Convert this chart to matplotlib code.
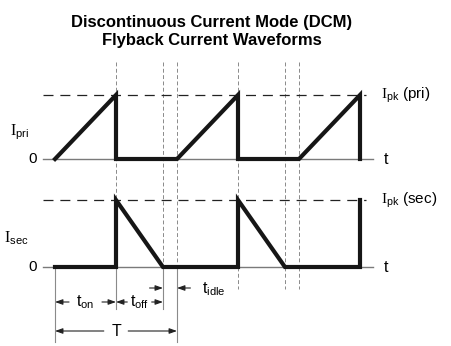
import matplotlib
matplotlib.use("Agg")
import matplotlib.pyplot as plt

plt.rcParams['font.family'] = ['Liberation Sans', 'DejaVu Sans']
plt.rcParams['mathtext.fontset'] = 'custom'
plt.rcParams['mathtext.rm'] = 'Liberation Serif'
plt.rcParams['mathtext.sf'] = 'Liberation Sans'

# waveform data, time in units of t_on, current normalised to I_pk
t_on = 1.0
t_off = 0.77
T = 2.0
pri_t = [0, 1, 1, 2, 3, 3, 4, 5, 5]
pri_i = [0, 1, 0, 0, 1, 0, 0, 1, 0]
sec_t = [0, 1, 1, 1.77, 3, 3, 3.77, 5, 5]
sec_i = [0, 0, 1, 0, 0, 1, 0, 0, 1]
edges = [1, 1.77, 2, 3, 3.77, 4]

W, H = 451, 346
PX = 61.0          # pixels per time unit
X0 = 55            # pixel of t = 0
xlim = (-X0 / PX, (W - X0) / PX)

fig = plt.figure(figsize=(W / 100, H / 100), dpi=100)

# overlay in pixel-y, time-x
ax = fig.add_axes([0, 0, 1, 1])
ax.set_xlim(*xlim)
ax.set_ylim(H, 0)
ax.axis('off')


def wave_axes(y_zero, y_pk):
    a = fig.add_axes([0, 1 - y_zero / H, 1, (y_zero - y_pk) / H])
    a.set_xlim(*xlim)
    a.set_ylim(0, 1)
    a.axis('off')
    a.patch.set_alpha(0)
    return a


ax_pri = wave_axes(159, 95)
ax_sec = wave_axes(267, 200)

for a, tt, ii, lab in [(ax_pri, pri_t, pri_i, '(pri)'),
                       (ax_sec, sec_t, sec_i, '(sec)')]:
    a.plot([xlim[0] + 43 / PX, xlim[0] + 373 / PX], [0, 0], color='#7a7a7a', lw=1.0, clip_on=False)
    a.plot([xlim[0] + 43 / PX, xlim[0] + 366 / PX], [1, 1], color='#222222', lw=0.9,
           dashes=(8, 5.5), clip_on=False)
    a.plot(tt, ii, color='#161616', lw=3.0, solid_joinstyle='miter', clip_on=False)
    a.text(xlim[0] + 381 / PX, 1, r'$\mathrm{I}_{\mathsf{pk}}$' + ' ' + lab, fontsize=11,
           va='center', ha='left')
    a.text(xlim[0] + 386 / PX, 0, 't', fontsize=11.5, va='center', ha='center')
    a.text(xlim[0] + 33 / PX, 0, '0', fontsize=11, va='center', ha='center')

ax.text(xlim[0] + 10 / PX, 132, r'$\mathrm{I}_{\mathsf{pri}}$', fontsize=11.5, va='center', ha='left')
ax.text(xlim[0] + 4 / PX, 238, r'$\mathrm{I}_{\mathsf{sec}}$', fontsize=11.5, va='center', ha='left')

# vertical timing markers
for e in edges:
    ax.plot([e, e], [62, 262], color='#8a8a8a', lw=0.7, dashes=(4, 2.5))
for e in edges[3:]:
    ax.plot([e, e], [267, 289], color='#8a8a8a', lw=0.7, dashes=(4, 2.5))
ax.plot([0, 0], [267, 342], color='#8a8a8a', lw=0.8)
ax.plot([t_on, t_on], [267, 309], color='#8a8a8a', lw=0.8)
ax.plot([t_on + t_off, t_on + t_off], [267, 309], color='#8a8a8a', lw=0.8)
ax.plot([T, T], [267, 342], color='#8a8a8a', lw=0.8)

arr = dict(arrowstyle='-|>,head_length=0.45,head_width=0.16', color='#222222', lw=0.8,
           shrinkA=0, shrinkB=0)


def dim(x1, x2, y, text, gap):
    mid = (x1 + x2) / 2
    ax.annotate('', xy=(x1, y), xytext=(mid - gap, y), arrowprops=arr)
    ax.annotate('', xy=(x2, y), xytext=(mid + gap, y), arrowprops=arr)
    ax.text(mid, y, text, fontsize=11.5, va='center', ha='center')


dim(0, t_on, 302, r't$_{\mathsf{on}}$', 0.27)
dim(t_on, t_off + t_on, 302, r't$_{\mathsf{off}}$', 0.2)
dim(0, T, 331, 'T', 0.2)

# t_idle arrows point inward from outside
ax.annotate('', xy=(t_on + t_off, 288), xytext=(t_on + t_off - 0.22, 288), arrowprops=arr)
ax.annotate('', xy=(T, 288), xytext=(T + 0.22, 288), arrowprops=arr)
ax.text(xlim[0] + 202 / PX, 289, r't$_{\mathsf{idle}}$', fontsize=11.5, va='center', ha='left')

ax.text(xlim[0] + 212 / PX, 22, 'Discontinuous Current Mode (DCM)', fontsize=12,
        fontweight='bold', va='center', ha='center')
ax.text(xlim[0] + 212 / PX, 40, 'Flyback Current Waveforms', fontsize=12,
        fontweight='bold', va='center', ha='center')

fig.savefig('out.png', dpi=100)
